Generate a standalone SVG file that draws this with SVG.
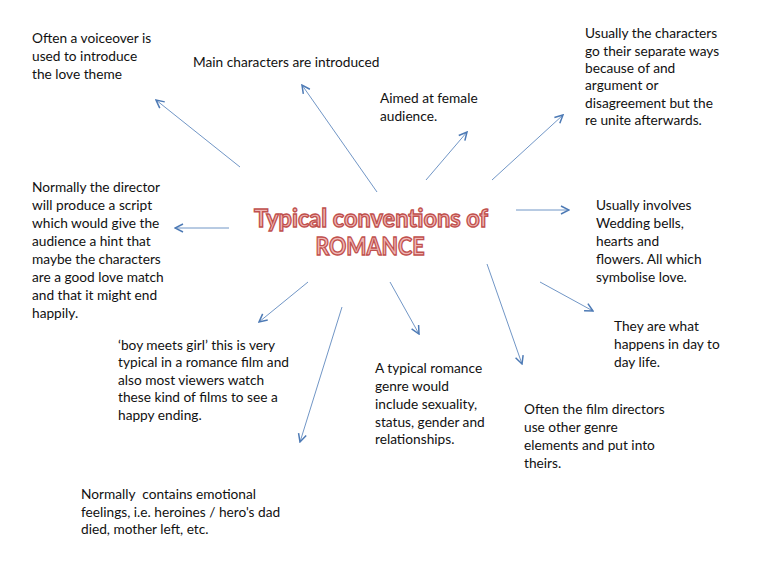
<svg xmlns="http://www.w3.org/2000/svg" width="768" height="576" viewBox="0 0 768 576">
<defs>
<style>
.t{font-family:Lato,"Liberation Sans",sans-serif;font-size:13.7px;fill:#111}
.title{font-family:Lato,"Liberation Sans",sans-serif;font-weight:700;font-size:25px;fill:#f0b8b6;stroke:#c0504d;stroke-width:1.4px;text-anchor:middle}
.c{stroke:#7196c6;stroke-width:1;fill:none}
</style>
<marker id="ah" viewBox="0 0 10 10" refX="9" refY="5" markerWidth="10" markerHeight="10" markerUnits="userSpaceOnUse" orient="auto">
<path d="M1,1 L9,5 L1,9" fill="none" stroke="#4d7ab5" stroke-width="1.5"/>
</marker>
</defs>
<rect width="768" height="576" fill="#fff"/>
<g id="connectors">
<line class="c" x1="240" y1="167" x2="156" y2="100" marker-end="url(#ah)"/>
<line class="c" x1="377" y1="192" x2="302" y2="85" marker-end="url(#ah)"/>
<line class="c" x1="426" y1="180" x2="467" y2="132" marker-end="url(#ah)"/>
<line class="c" x1="492" y1="180" x2="563" y2="115" marker-end="url(#ah)"/>
<line class="c" x1="229" y1="228" x2="175" y2="228" marker-end="url(#ah)"/>
<line class="c" x1="516" y1="210" x2="569" y2="210" marker-end="url(#ah)"/>
<line class="c" x1="540" y1="282" x2="593" y2="311" marker-end="url(#ah)"/>
<line class="c" x1="487" y1="264" x2="522" y2="364" marker-end="url(#ah)"/>
<line class="c" x1="390" y1="282" x2="419" y2="334" marker-end="url(#ah)"/>
<line class="c" x1="308" y1="282" x2="259" y2="322" marker-end="url(#ah)"/>
<line class="c" x1="342" y1="307" x2="300" y2="442" marker-end="url(#ah)"/>
</g>
<g id="center">
<text class="title" x="371" y="227" textLength="234" lengthAdjust="spacingAndGlyphs">Typical conventions of</text>
<text class="title" x="370" y="255" textLength="109" lengthAdjust="spacingAndGlyphs">ROMANCE</text>
</g>
<g id="n-voiceover">
<text class="t" x="32" y="43">Often a voiceover is</text>
<text class="t" x="32" y="61">used to introduce</text>
<text class="t" x="32" y="79">the love theme</text>
</g>
<g id="n-main">
<text class="t" x="193" y="67">Main characters are introduced</text>
</g>
<g id="n-aimed">
<text class="t" x="380" y="103">Aimed at female</text>
<text class="t" x="380" y="121">audience.</text>
</g>
<g id="n-separate">
<text class="t" x="585" y="38">Usually the characters</text>
<text class="t" x="585" y="56">go their separate ways</text>
<text class="t" x="585" y="73">because of and</text>
<text class="t" x="585" y="90">argument or</text>
<text class="t" x="585" y="108">disagreement but the</text>
<text class="t" x="585" y="125">re unite afterwards.</text>
</g>
<g id="n-director">
<text class="t" x="32" y="192">Normally the director</text>
<text class="t" x="32" y="210">will produce a script</text>
<text class="t" x="32" y="228">which would give the</text>
<text class="t" x="32" y="246">audience a hint that</text>
<text class="t" x="32" y="264">maybe the characters</text>
<text class="t" x="32" y="282">are a good love match</text>
<text class="t" x="32" y="300">and that it might end</text>
<text class="t" x="32" y="318">happily.</text>
</g>
<g id="n-wedding">
<text class="t" x="596" y="210">Usually involves</text>
<text class="t" x="596" y="228">Wedding bells,</text>
<text class="t" x="596" y="246">hearts and</text>
<text class="t" x="596" y="264">flowers. All which</text>
<text class="t" x="596" y="282">symbolise love.</text>
</g>
<g id="n-daylife">
<text class="t" x="614" y="331">They are what</text>
<text class="t" x="614" y="349">happens in day to</text>
<text class="t" x="614" y="367">day life.</text>
</g>
<g id="n-boy">
<text class="t" x="118" y="350">‘boy meets girl’ this is very</text>
<text class="t" x="118" y="367">typical in a romance film and</text>
<text class="t" x="118" y="385">also most viewers watch</text>
<text class="t" x="118" y="402">these kind of films to see a</text>
<text class="t" x="118" y="420">happy ending.</text>
</g>
<g id="n-typical">
<text class="t" x="375" y="373">A typical romance</text>
<text class="t" x="375" y="391">genre would</text>
<text class="t" x="375" y="409">include sexuality,</text>
<text class="t" x="375" y="427">status, gender and</text>
<text class="t" x="375" y="444">relationships.</text>
</g>
<g id="n-other">
<text class="t" x="524" y="414">Often the film directors</text>
<text class="t" x="524" y="432">use other genre</text>
<text class="t" x="524" y="450">elements and put into</text>
<text class="t" x="524" y="468">theirs.</text>
</g>
<g id="n-emotional">
<text class="t" x="81" y="499" xml:space="preserve">Normally  contains emotional</text>
<text class="t" x="81" y="517">feelings, i.e. heroines / hero's dad</text>
<text class="t" x="81" y="534">died, mother left, etc.</text>
</g>
</svg>
